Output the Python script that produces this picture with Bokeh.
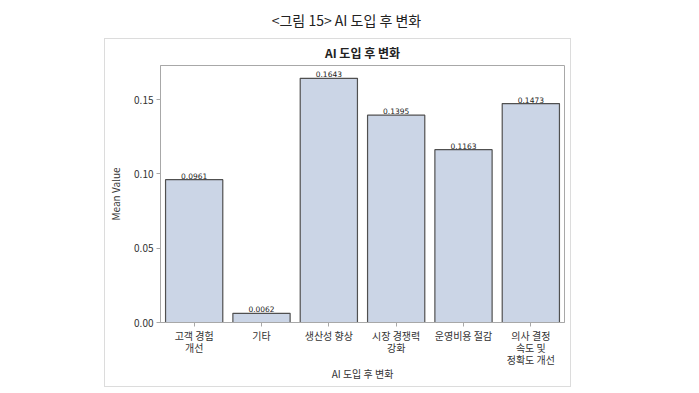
from bokeh.plotting import figure
from bokeh.models import ColumnDataSource, Range1d, FactorRange, LabelSet, Div, NumeralTickFormatter, FixedTicker
from bokeh.core.properties import value
from bokeh.layouts import column
from bokeh.embed import file_html
from bokeh.resources import INLINE

categories = ["고객 경험\n개선", "기타", "생산성 향상", "시장 경쟁력\n강화", "운영비용 절감", "의사 결정\n속도 및\n정확도 개선"]
values = [0.0961, 0.0062, 0.1643, 0.1395, 0.1163, 0.1473]
labels = ["%.4f" % v for v in values]
y_ticks = [0.0, 0.05, 0.10, 0.15]

FONT = "Noto Sans CJK KR"
src = ColumnDataSource(dict(cat=categories, val=values, lab=labels))

p = figure(x_range=FactorRange(*categories, range_padding=0), y_range=Range1d(0, 0.1729),
           width=467, height=349, output_backend="svg", toolbar_location=None,
           title="AI 도입 후 변화")
p.margin = (0, 0, 0, 104)
p.styles = {"border": "1px solid #dcdcdc", "box-sizing": "border-box"}
p.min_border_left = 55
p.min_border_right = 8
p.min_border_top = 26
p.min_border_bottom = 66

p.title.align = "center"
p.title.vertical_align = "top"
p.title.text_font = FONT
p.title.text_font_size = "12px"
p.title.text_font_style = "bold"
p.title.text_color = "#222222"
p.title.text_line_height = 0.7
p.title.standoff = 6
p.title.offset = 0

p.vbar(x="cat", top="val", width=0.85, source=src, fill_color="#cbd5e6",
       line_color="#505050", line_width=1.2)

lab = LabelSet(x="cat", y="val", text="lab", source=src, text_align="center",
               text_baseline="bottom", y_offset=1, text_font=value("DejaVu Sans"),
               text_font_size="7.5px", text_color="#222222")
p.add_layout(lab)

p.xgrid.visible = False
p.ygrid.visible = False
p.outline_line_color = "#a8a8a8"
p.outline_line_width = 1

for ax in (p.xaxis[0], p.yaxis[0]):
    ax.axis_line_color = "#a8a8a8"
    ax.major_tick_line_color = "#a8a8a8"
    ax.major_tick_out = 4
    ax.major_tick_in = 0
    ax.minor_tick_line_color = None
    ax.major_label_text_font = FONT
    ax.major_label_text_font_size = "10px"
    ax.major_label_text_color = "#333333"
    ax.axis_label_text_font = FONT
    ax.axis_label_text_font_size = "10px"
    ax.axis_label_text_font_style = "normal"
    ax.axis_label_text_color = "#333333"

p.yaxis[0].ticker = FixedTicker(ticks=y_ticks)
p.yaxis[0].formatter = NumeralTickFormatter(format="0.00")
p.yaxis[0].axis_label = "Mean Value"
p.yaxis[0].axis_label_standoff = 8
p.yaxis[0].major_label_standoff = 3
p.xaxis[0].axis_label = "AI 도입 후 변화"
p.xaxis[0].axis_label_standoff = -4
p.xaxis[0].major_label_standoff = 1
p.xaxis[0].major_label_text_line_height = 0.82

head = Div(text="&lt;그림 15&gt; AI 도입 후 변화", width=683, height=28)
head.styles = {"font-family": "'Noto Sans CJK KR'", "font-size": "14px", "color": "#222222",
               "width": "683px", "text-align": "center", "padding-top": "5px"}

layout = column(head, p, spacing=0)
open("out.html", "w").write(file_html(layout, INLINE))
